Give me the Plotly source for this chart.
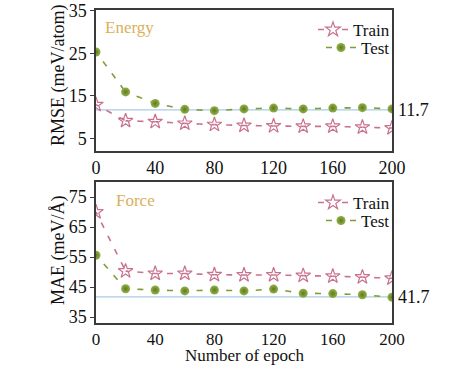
import plotly.graph_objects as go

epochs = [0, 20, 40, 60, 80, 100, 120, 140, 160, 180, 200]
energy_train = [12.9, 9.1, 8.9, 8.5, 8.2, 8.0, 7.9, 7.8, 7.8, 7.6, 7.4]
energy_test = [25.3, 15.9, 13.2, 11.8, 11.5, 11.9, 12.1, 11.9, 12.1, 12.2, 11.9]
force_train = [70.0, 50.3, 49.5, 49.5, 49.1, 49.0, 49.0, 48.8, 48.6, 48.3, 47.9]
force_test = [55.6, 44.4, 44.0, 43.7, 44.0, 43.7, 44.3, 42.9, 42.8, 42.4, 41.6]
energy_ref = 11.7
force_ref = 41.7

x_ticks = [0, 40, 80, 120, 160, 200]
energy_ticks = [5, 15, 25, 35]
force_ticks = [35, 45, 55, 65, 75]

PINK = "#c9728e"
GREEN = "#7f9b33"
GOLD = "#d9b15a"
BLUE = "#a9cbe6"
AX = "#3a3a3a"
FONT = "Liberation Serif"
SEG_DASH = "3px,8.8px,3px,0px"
LEG_DASH = "6px,18px"

fig = go.Figure()

TRAIN_MARKER = dict(symbol="star-open", size=11, color=PINK, line=dict(width=1.2, color=PINK))
TEST_MARKER = dict(symbol="circle", size=9, color="#93b248",
                   gradient=dict(type="radial", color="#5f7a20"), line=dict(width=0))


def add_series(xa, ya, values, name, color, marker, legend):
    # dashed connecting segments (one per pair of points, so each gap gets a centred dash)
    for i in range(len(epochs) - 1):
        fig.add_trace(go.Scatter(x=epochs[i:i + 2], y=values[i:i + 2], mode="lines",
                                 xaxis=xa, yaxis=ya, showlegend=False, hoverinfo="skip",
                                 line=dict(color=color, width=1.6, dash=SEG_DASH)))
    fig.add_trace(go.Scatter(x=epochs, y=values, name=name, mode="markers",
                             xaxis=xa, yaxis=ya, showlegend=False,
                             marker=marker, cliponaxis=True))
    # legend entry
    fig.add_trace(go.Scatter(x=[None], y=[None], name=name, mode="lines+markers",
                             xaxis=xa, yaxis=ya, legend=legend,
                             line=dict(color=color, width=1.6, dash=LEG_DASH),
                             marker=marker))


# reference lines (drawn first, under markers)
fig.add_trace(go.Scatter(x=[epochs[0], epochs[-1]], y=[energy_ref, energy_ref], mode="lines",
                         xaxis="x", yaxis="y", line=dict(color=BLUE, width=1.2),
                         showlegend=False, hoverinfo="skip"))
fig.add_trace(go.Scatter(x=[epochs[0], epochs[-1]], y=[force_ref, force_ref], mode="lines",
                         xaxis="x2", yaxis="y2", line=dict(color=BLUE, width=1.2),
                         showlegend=False, hoverinfo="skip"))

add_series("x", "y", energy_train, "Train", PINK, TRAIN_MARKER, "legend")
add_series("x", "y", energy_test, "Test", GREEN, TEST_MARKER, "legend3")
add_series("x2", "y2", force_train, "Train", PINK, TRAIN_MARKER, "legend2")
add_series("x2", "y2", force_test, "Test", GREEN, TEST_MARKER, "legend4")

W, H = 474, 366
xd = [96 / W, 392 / W]
y1 = [1 - 151 / H, 1 - 9.5 / H]
y2 = [1 - 323 / H, 1 - 182 / H]

axis_common = dict(showline=True, mirror=True, linecolor=AX, linewidth=1.5,
                   showgrid=False, zeroline=False, automargin=False)
tick18 = dict(family=FONT, size=18, color="#111")
tick17 = dict(family=FONT, size=17, color="#111")


def leg(ypx):
    return dict(x=395 / W, y=1 - ypx / H, xanchor="right", yanchor="middle",
                bgcolor="rgba(0,0,0,0)", font=dict(family=FONT, size=17),
                tracegroupgap=0, itemwidth=30)


fig.update_layout(
    width=W, height=H,
    margin=dict(l=0, r=0, t=0, b=0),
    paper_bgcolor="white", plot_bgcolor="white",
    font=dict(family=FONT, color="#111"),
    xaxis=dict(domain=xd, anchor="y", range=[0, 200], tickvals=x_ticks,
               ticks="", ticklen=0, tickfont=tick18, **axis_common),
    yaxis=dict(domain=y1, anchor="x", range=[2, 35.3], tickvals=energy_ticks,
               ticks="outside", ticklen=4, tickcolor=AX, tickwidth=1.2,
               tickfont=tick18, **axis_common),
    xaxis2=dict(domain=xd, anchor="y2", range=[0, 200], tickvals=x_ticks,
                ticks="", ticklen=0, tickfont=tick17, **axis_common),
    yaxis2=dict(domain=y2, anchor="x2", range=[33, 80], tickvals=force_ticks,
                ticks="outside", ticklen=4, tickcolor=AX, tickwidth=1.2,
                tickfont=tick18, **axis_common),
    legend=leg(30),
    legend3=leg(48),
    legend2=leg(203),
    legend4=leg(221),
    showlegend=True,
)

title_font = dict(family=FONT, size=18, color="#111")
fig.add_annotation(text="Number of epoch", xref="paper", yref="paper",
                   x=(xd[0] + xd[1]) / 2, y=0, xanchor="center", yanchor="bottom",
                   showarrow=False, font=dict(family=FONT, size=17, color="#111"),
                   borderpad=0)
fig.add_annotation(text="RMSE (meV/atom)", xref="paper", yref="paper", textangle=-90,
                   x=58 / W, y=1 - 75 / H, xanchor="center", yanchor="middle",
                   showarrow=False, font=title_font)
fig.add_annotation(text="MAE (meV/Å)", xref="paper", yref="paper", textangle=-90,
                   x=58 / W, y=1 - 251 / H, xanchor="center", yanchor="middle",
                   showarrow=False, font=title_font)
fig.add_annotation(text="Energy", xref="x", yref="paper", x=5, y=1 - 28 / H,
                   xanchor="left", yanchor="middle", showarrow=False,
                   font=dict(family=FONT, size=17, color=GOLD))
fig.add_annotation(text="Force", xref="x2", yref="paper", x=12, y=1 - 200 / H,
                   xanchor="left", yanchor="middle", showarrow=False,
                   font=dict(family=FONT, size=17, color=GOLD))
fig.add_annotation(text=str(energy_ref), xref="paper", yref="y", x=xd[1], y=energy_ref,
                   xanchor="left", yanchor="middle", xshift=4, showarrow=False,
                   font=title_font)
fig.add_annotation(text=str(force_ref), xref="paper", yref="y2", x=xd[1], y=force_ref,
                   xanchor="left", yanchor="middle", xshift=4, showarrow=False,
                   font=title_font)

fig.write_html("out.html", config={"displayModeBar": False},
               post_script="document.body.style.margin='0px';")
